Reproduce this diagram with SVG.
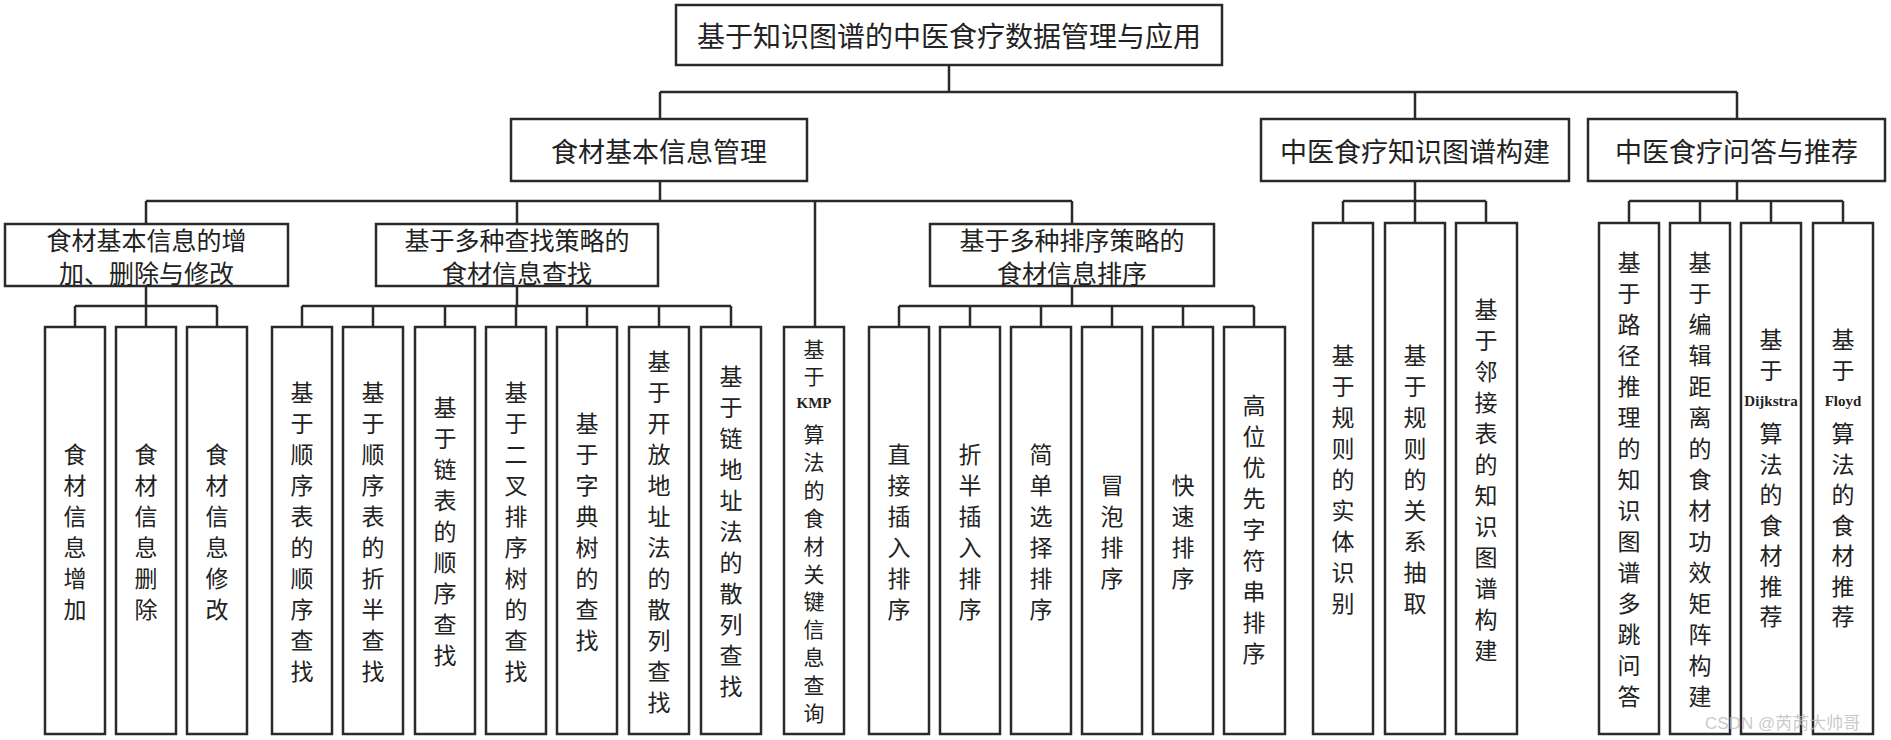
<svg xmlns="http://www.w3.org/2000/svg" width="1891" height="740" viewBox="0 0 1891 740">
<style>
.b{fill:#fff;stroke:#2a2a2a;stroke-width:2.5}
.c{fill:none;stroke:#2a2a2a;stroke-width:2.5}
.t0{font-family:'Noto Sans CJK SC',sans-serif;font-size:28px;fill:#222;text-anchor:middle;dominant-baseline:central}
.t1{font-family:'Noto Sans CJK SC',sans-serif;font-size:27px;fill:#222;text-anchor:middle;dominant-baseline:central}
.t2{font-family:'Noto Sans CJK SC',sans-serif;font-size:25px;fill:#222;text-anchor:middle;dominant-baseline:central}
.v{font-family:'Noto Sans CJK SC',sans-serif;font-size:23px;fill:#222;text-anchor:middle;dominant-baseline:central}
.k{font-family:'Noto Sans CJK SC',sans-serif;font-size:21px;fill:#222;text-anchor:middle;dominant-baseline:central}
.e{font-family:'Liberation Serif',serif;font-size:15px;font-weight:bold;fill:#222;text-anchor:middle;dominant-baseline:central}
.w{font-family:'Liberation Sans','Noto Sans CJK SC',sans-serif;font-size:17px;fill:#bbb;fill-opacity:0.8}
</style>
<rect width="1891" height="740" fill="#fff"/>
<g id="connectors">
<path class="c" d="M949 65V92M660 92H1737M660 92V119M1415 92V119M1737 92V119"/>
<path class="c" d="M660 181V201M146 201H1072M146 201V224M517 201V224M815 201V327M1072 201V224"/>
<path class="c" d="M146 286V306M75 306H217M75 306V327M146 306V327M217 306V327"/>
<path class="c" d="M517 286V306M302 306H731M302 306V327M373 306V327M445 306V327M516 306V327M587 306V327M659 306V327M731 306V327"/>
<path class="c" d="M1072 286V306M899 306H1254M899 306V327M970 306V327M1041 306V327M1112 306V327M1183 306V327M1254 306V327"/>
<path class="c" d="M1415 181V201M1343 201H1486M1343 201V223M1415 201V223M1486 201V223"/>
<path class="c" d="M1737 181V201M1629 201H1843M1629 201V223M1700 201V223M1771 201V223M1843 201V223"/>
</g>
<g id="root"><rect class="b" x="676" y="5" width="546" height="60"/><text class="t0" x="949" y="35">基于知识图谱的中医食疗数据管理与应用</text></g>
<g id="n1"><rect class="b" x="511" y="119" width="296" height="62"/><text class="t1" x="659" y="150">食材基本信息管理</text></g>
<g id="n2"><rect class="b" x="1261" y="119" width="308" height="62"/><text class="t1" x="1415" y="150">中医食疗知识图谱构建</text></g>
<g id="n3"><rect class="b" x="1588" y="119" width="297" height="62"/><text class="t1" x="1736.5" y="150">中医食疗问答与推荐</text></g>
<g id="n11"><rect class="b" x="5" y="224" width="283" height="62"/><text class="t2" x="146.5" y="239">食材基本信息的增</text><text class="t2" x="146.5" y="272">加、删除与修改</text></g>
<g id="n12"><rect class="b" x="376" y="224" width="282" height="62"/><text class="t2" x="517" y="239">基于多种查找策略的</text><text class="t2" x="517" y="272">食材信息查找</text></g>
<g id="n13"><rect class="b" x="930" y="224" width="284" height="62"/><text class="t2" x="1072" y="239">基于多种排序策略的</text><text class="t2" x="1072" y="272">食材信息排序</text></g>
<g id="a1"><rect class="b" x="45" y="327" width="60" height="407"/><text class="v" y="452.5"><tspan x="75">食</tspan><tspan x="75" dy="31">材</tspan><tspan x="75" dy="31">信</tspan><tspan x="75" dy="31">息</tspan><tspan x="75" dy="31">增</tspan><tspan x="75" dy="31">加</tspan></text></g>
<g id="a2"><rect class="b" x="116" y="327" width="60" height="407"/><text class="v" y="452.5"><tspan x="146">食</tspan><tspan x="146" dy="31">材</tspan><tspan x="146" dy="31">信</tspan><tspan x="146" dy="31">息</tspan><tspan x="146" dy="31">删</tspan><tspan x="146" dy="31">除</tspan></text></g>
<g id="a3"><rect class="b" x="187" y="327" width="60" height="407"/><text class="v" y="452.5"><tspan x="217">食</tspan><tspan x="217" dy="31">材</tspan><tspan x="217" dy="31">信</tspan><tspan x="217" dy="31">息</tspan><tspan x="217" dy="31">修</tspan><tspan x="217" dy="31">改</tspan></text></g>
<g id="b1"><rect class="b" x="272" y="327" width="60" height="407"/><text class="v" y="390.5"><tspan x="302">基</tspan><tspan x="302" dy="31">于</tspan><tspan x="302" dy="31">顺</tspan><tspan x="302" dy="31">序</tspan><tspan x="302" dy="31">表</tspan><tspan x="302" dy="31">的</tspan><tspan x="302" dy="31">顺</tspan><tspan x="302" dy="31">序</tspan><tspan x="302" dy="31">查</tspan><tspan x="302" dy="31">找</tspan></text></g>
<g id="b2"><rect class="b" x="343" y="327" width="60" height="407"/><text class="v" y="390.5"><tspan x="373">基</tspan><tspan x="373" dy="31">于</tspan><tspan x="373" dy="31">顺</tspan><tspan x="373" dy="31">序</tspan><tspan x="373" dy="31">表</tspan><tspan x="373" dy="31">的</tspan><tspan x="373" dy="31">折</tspan><tspan x="373" dy="31">半</tspan><tspan x="373" dy="31">查</tspan><tspan x="373" dy="31">找</tspan></text></g>
<g id="b3"><rect class="b" x="415" y="327" width="60" height="407"/><text class="v" y="406"><tspan x="445">基</tspan><tspan x="445" dy="31">于</tspan><tspan x="445" dy="31">链</tspan><tspan x="445" dy="31">表</tspan><tspan x="445" dy="31">的</tspan><tspan x="445" dy="31">顺</tspan><tspan x="445" dy="31">序</tspan><tspan x="445" dy="31">查</tspan><tspan x="445" dy="31">找</tspan></text></g>
<g id="b4"><rect class="b" x="486" y="327" width="60" height="407"/><text class="v" y="390.5"><tspan x="516">基</tspan><tspan x="516" dy="31">于</tspan><tspan x="516" dy="31">二</tspan><tspan x="516" dy="31">叉</tspan><tspan x="516" dy="31">排</tspan><tspan x="516" dy="31">序</tspan><tspan x="516" dy="31">树</tspan><tspan x="516" dy="31">的</tspan><tspan x="516" dy="31">查</tspan><tspan x="516" dy="31">找</tspan></text></g>
<g id="b5"><rect class="b" x="557" y="327" width="60" height="407"/><text class="v" y="421.5"><tspan x="587">基</tspan><tspan x="587" dy="31">于</tspan><tspan x="587" dy="31">字</tspan><tspan x="587" dy="31">典</tspan><tspan x="587" dy="31">树</tspan><tspan x="587" dy="31">的</tspan><tspan x="587" dy="31">查</tspan><tspan x="587" dy="31">找</tspan></text></g>
<g id="b6"><rect class="b" x="629" y="327" width="60" height="407"/><text class="v" y="359.5"><tspan x="659">基</tspan><tspan x="659" dy="31">于</tspan><tspan x="659" dy="31">开</tspan><tspan x="659" dy="31">放</tspan><tspan x="659" dy="31">地</tspan><tspan x="659" dy="31">址</tspan><tspan x="659" dy="31">法</tspan><tspan x="659" dy="31">的</tspan><tspan x="659" dy="31">散</tspan><tspan x="659" dy="31">列</tspan><tspan x="659" dy="31">查</tspan><tspan x="659" dy="31">找</tspan></text></g>
<g id="b7"><rect class="b" x="701" y="327" width="60" height="407"/><text class="v" y="375"><tspan x="731">基</tspan><tspan x="731" dy="31">于</tspan><tspan x="731" dy="31">链</tspan><tspan x="731" dy="31">地</tspan><tspan x="731" dy="31">址</tspan><tspan x="731" dy="31">法</tspan><tspan x="731" dy="31">的</tspan><tspan x="731" dy="31">散</tspan><tspan x="731" dy="31">列</tspan><tspan x="731" dy="31">查</tspan><tspan x="731" dy="31">找</tspan></text></g>
<g id="kmp"><rect class="b" x="784" y="327" width="60" height="407"/><text class="k" y="348"><tspan x="814">基</tspan><tspan x="814" dy="27">于</tspan></text><text class="e" x="814" y="403">KMP</text><text class="k" y="433"><tspan x="814">算</tspan><tspan x="814" dy="27.9">法</tspan><tspan x="814" dy="27.9">的</tspan><tspan x="814" dy="27.9">食</tspan><tspan x="814" dy="27.9">材</tspan><tspan x="814" dy="27.9">关</tspan><tspan x="814" dy="27.9">键</tspan><tspan x="814" dy="27.9">信</tspan><tspan x="814" dy="27.9">息</tspan><tspan x="814" dy="27.9">查</tspan><tspan x="814" dy="27.9">询</tspan></text></g>
<g id="c1"><rect class="b" x="869" y="327" width="60" height="407"/><text class="v" y="452.5"><tspan x="899">直</tspan><tspan x="899" dy="31">接</tspan><tspan x="899" dy="31">插</tspan><tspan x="899" dy="31">入</tspan><tspan x="899" dy="31">排</tspan><tspan x="899" dy="31">序</tspan></text></g>
<g id="c2"><rect class="b" x="940" y="327" width="60" height="407"/><text class="v" y="452.5"><tspan x="970">折</tspan><tspan x="970" dy="31">半</tspan><tspan x="970" dy="31">插</tspan><tspan x="970" dy="31">入</tspan><tspan x="970" dy="31">排</tspan><tspan x="970" dy="31">序</tspan></text></g>
<g id="c3"><rect class="b" x="1011" y="327" width="60" height="407"/><text class="v" y="452.5"><tspan x="1041">简</tspan><tspan x="1041" dy="31">单</tspan><tspan x="1041" dy="31">选</tspan><tspan x="1041" dy="31">择</tspan><tspan x="1041" dy="31">排</tspan><tspan x="1041" dy="31">序</tspan></text></g>
<g id="c4"><rect class="b" x="1082" y="327" width="60" height="407"/><text class="v" y="483.5"><tspan x="1112">冒</tspan><tspan x="1112" dy="31">泡</tspan><tspan x="1112" dy="31">排</tspan><tspan x="1112" dy="31">序</tspan></text></g>
<g id="c5"><rect class="b" x="1153" y="327" width="60" height="407"/><text class="v" y="483.5"><tspan x="1183">快</tspan><tspan x="1183" dy="31">速</tspan><tspan x="1183" dy="31">排</tspan><tspan x="1183" dy="31">序</tspan></text></g>
<g id="c6"><rect class="b" x="1224" y="327" width="61" height="407"/><text class="v" y="404"><tspan x="1254">高</tspan><tspan x="1254" dy="31">位</tspan><tspan x="1254" dy="31">优</tspan><tspan x="1254" dy="31">先</tspan><tspan x="1254" dy="31">字</tspan><tspan x="1254" dy="31">符</tspan><tspan x="1254" dy="31">串</tspan><tspan x="1254" dy="31">排</tspan><tspan x="1254" dy="31">序</tspan></text></g>
<g id="d1"><rect class="b" x="1313" y="223" width="60" height="511"/><text class="v" y="354"><tspan x="1343">基</tspan><tspan x="1343" dy="31">于</tspan><tspan x="1343" dy="31">规</tspan><tspan x="1343" dy="31">则</tspan><tspan x="1343" dy="31">的</tspan><tspan x="1343" dy="31">实</tspan><tspan x="1343" dy="31">体</tspan><tspan x="1343" dy="31">识</tspan><tspan x="1343" dy="31">别</tspan></text></g>
<g id="d2"><rect class="b" x="1385" y="223" width="60" height="511"/><text class="v" y="354"><tspan x="1415">基</tspan><tspan x="1415" dy="31">于</tspan><tspan x="1415" dy="31">规</tspan><tspan x="1415" dy="31">则</tspan><tspan x="1415" dy="31">的</tspan><tspan x="1415" dy="31">关</tspan><tspan x="1415" dy="31">系</tspan><tspan x="1415" dy="31">抽</tspan><tspan x="1415" dy="31">取</tspan></text></g>
<g id="d3"><rect class="b" x="1456" y="223" width="61" height="511"/><text class="v" y="307.5"><tspan x="1486">基</tspan><tspan x="1486" dy="31">于</tspan><tspan x="1486" dy="31">邻</tspan><tspan x="1486" dy="31">接</tspan><tspan x="1486" dy="31">表</tspan><tspan x="1486" dy="31">的</tspan><tspan x="1486" dy="31">知</tspan><tspan x="1486" dy="31">识</tspan><tspan x="1486" dy="31">图</tspan><tspan x="1486" dy="31">谱</tspan><tspan x="1486" dy="31">构</tspan><tspan x="1486" dy="31">建</tspan></text></g>
<g id="e1"><rect class="b" x="1599" y="223" width="60" height="511"/><text class="v" y="261"><tspan x="1629">基</tspan><tspan x="1629" dy="31">于</tspan><tspan x="1629" dy="31">路</tspan><tspan x="1629" dy="31">径</tspan><tspan x="1629" dy="31">推</tspan><tspan x="1629" dy="31">理</tspan><tspan x="1629" dy="31">的</tspan><tspan x="1629" dy="31">知</tspan><tspan x="1629" dy="31">识</tspan><tspan x="1629" dy="31">图</tspan><tspan x="1629" dy="31">谱</tspan><tspan x="1629" dy="31">多</tspan><tspan x="1629" dy="31">跳</tspan><tspan x="1629" dy="31">问</tspan><tspan x="1629" dy="31">答</tspan></text></g>
<g id="e2"><rect class="b" x="1670" y="223" width="60" height="511"/><text class="v" y="261"><tspan x="1700">基</tspan><tspan x="1700" dy="31">于</tspan><tspan x="1700" dy="31">编</tspan><tspan x="1700" dy="31">辑</tspan><tspan x="1700" dy="31">距</tspan><tspan x="1700" dy="31">离</tspan><tspan x="1700" dy="31">的</tspan><tspan x="1700" dy="31">食</tspan><tspan x="1700" dy="31">材</tspan><tspan x="1700" dy="31">功</tspan><tspan x="1700" dy="31">效</tspan><tspan x="1700" dy="31">矩</tspan><tspan x="1700" dy="31">阵</tspan><tspan x="1700" dy="31">构</tspan><tspan x="1700" dy="31">建</tspan></text></g>
<g id="e3"><rect class="b" x="1741" y="223" width="60" height="511"/><text class="v" y="338"><tspan x="1771">基</tspan><tspan x="1771" dy="30.5">于</tspan></text><text class="e" x="1771" y="401">Dijkstra</text><text class="v" y="432"><tspan x="1771">算</tspan><tspan x="1771" dy="30.5">法</tspan><tspan x="1771" dy="30.5">的</tspan><tspan x="1771" dy="30.5">食</tspan><tspan x="1771" dy="30.5">材</tspan><tspan x="1771" dy="30.5">推</tspan><tspan x="1771" dy="30.5">荐</tspan></text></g>
<g id="e4"><rect class="b" x="1813" y="223" width="60" height="511"/><text class="v" y="338"><tspan x="1843">基</tspan><tspan x="1843" dy="30.5">于</tspan></text><text class="e" x="1843" y="401">Floyd</text><text class="v" y="432"><tspan x="1843">算</tspan><tspan x="1843" dy="30.5">法</tspan><tspan x="1843" dy="30.5">的</tspan><tspan x="1843" dy="30.5">食</tspan><tspan x="1843" dy="30.5">材</tspan><tspan x="1843" dy="30.5">推</tspan><tspan x="1843" dy="30.5">荐</tspan></text></g>
<text class="w" x="1705" y="729">CSDN @芮芮大帅哥</text>
</svg>
